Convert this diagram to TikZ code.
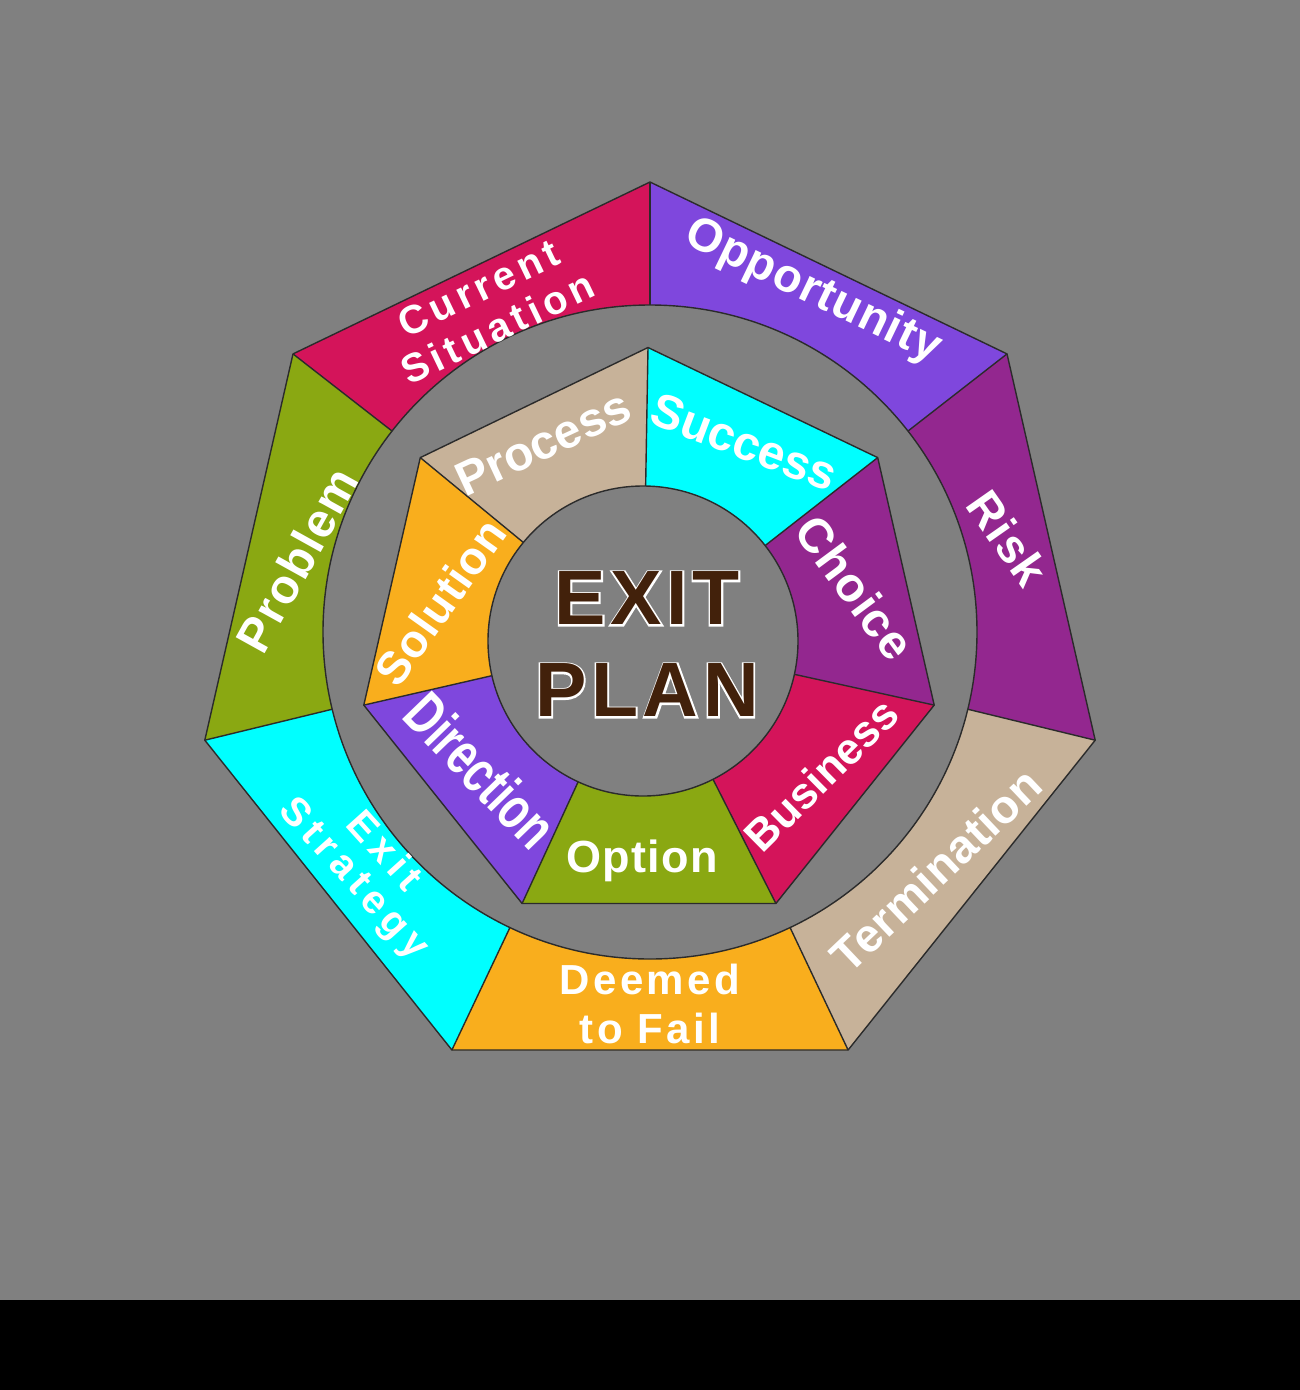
\documentclass[tikz,border=0pt]{standalone}
\usepackage{fontspec}
\setmainfont{Liberation Sans}
\definecolor{bgc}{HTML}{808080}
\definecolor{crim}{HTML}{D4145A}
\definecolor{oppc}{HTML}{7F47DD}
\definecolor{riskc}{HTML}{93278F}
\definecolor{tanc}{HTML}{C7B299}
\definecolor{orac}{HTML}{F9AE1D}
\definecolor{cyanc}{HTML}{00FFFF}
\definecolor{olivec}{HTML}{8AA812}
\definecolor{brownc}{HTML}{42210B}
\definecolor{edgec}{HTML}{2B2B2B}
\newcommand\lf[3]{\fontsize{#1}{#2}\selectfont\bfseries\addfontfeatures{LetterSpace=#3}}
\newcommand\outl[1]{\rlap{\special{pdf:literal direct 1 Tr 3.4 w 1 1 1 RG}#1\special{pdf:literal direct 0 Tr}}#1}
\tikzset{
  seg/.style={fill=#1, draw=none},
  edgeline/.style={draw=edgec, line width=1.4pt, line join=round},
  hole/.style={fill=bgc, draw=edgec, line width=1.4pt},
  lbl/.style={text=white, inner sep=0pt, align=center},
}
\begin{document}
\begin{tikzpicture}[x=1pt,y=-1pt]
\useasboundingbox (0,0) rectangle (1300,1390);
\fill[bgc] (0,0) rectangle (1300,1300);
\fill[black] (0,1300) rectangle (1300,1390);
% outer heptagon
\coordinate (OC) at (650,632);
\coordinate (o0) at (650,182);
\coordinate (o1) at (293,353.9);
\coordinate (o2) at (204.8,740.2);
\coordinate (o3) at (451.9,1050);
\coordinate (o4) at (848.1,1050);
\coordinate (o5) at (1095.2,740.2);
\coordinate (o6) at (1007,353.9);
\fill[seg=crim] (OC) -- (o0) -- (o1) -- cycle;
\fill[seg=olivec] (OC) -- (o1) -- (o2) -- cycle;
\fill[seg=cyanc] (OC) -- (o2) -- (o3) -- cycle;
\fill[seg=orac] (OC) -- (o3) -- (o4) -- cycle;
\fill[seg=tanc] (OC) -- (o4) -- (o5) -- cycle;
\fill[seg=riskc] (OC) -- (o5) -- (o6) -- cycle;
\fill[seg=oppc] (OC) -- (o6) -- (o0) -- cycle;
\draw[edgeline] (o0) -- (o1) -- (o2) -- (o3) -- (o4) -- (o5) -- (o6) -- cycle;
\foreach \v in {o0,o1,o2,o3,o4,o5,o6} \draw[edgeline] (\v) -- (OC);
\path[hole] (OC) circle[radius=327];
% inner heptagon
\coordinate (IC) at (643,641);
\coordinate (i0) at (648,347.5);
\coordinate (i1) at (420.3,457.6);
\coordinate (i2) at (363.8,705.1);
\coordinate (i3) at (522.1,903.5);
\coordinate (i4) at (775.9,903.5);
\coordinate (i5) at (934.2,705.1);
\coordinate (i6) at (877.7,457.6);
\fill[seg=tanc] (IC) -- (i0) -- (i1) -- cycle;
\fill[seg=orac] (IC) -- (i1) -- (i2) -- cycle;
\fill[seg=oppc] (IC) -- (i2) -- (i3) -- cycle;
\fill[seg=olivec] (IC) -- (i3) -- (i4) -- cycle;
\fill[seg=crim] (IC) -- (i4) -- (i5) -- cycle;
\fill[seg=riskc] (IC) -- (i5) -- (i6) -- cycle;
\fill[seg=cyanc] (IC) -- (i6) -- (i0) -- cycle;
\draw[edgeline] (i0) -- (i1) -- (i2) -- (i3) -- (i4) -- (i5) -- (i6) -- cycle;
\foreach \v in {i0,i1,i2,i3,i4,i5,i6} \draw[edgeline] (\v) -- (IC);
\path[hole] (IC) circle[radius=155];
% outer labels
\node[lbl, rotate=25.7, font=\lf{40}{44}{12}] (cs) at (488,308) {Current\\Situation};
\node[lbl, rotate=-25.7, font=\lf{47}{50}{2}] (opp) at (813,292) {Opportunity};
\node[lbl, rotate=-55, font=\lf{47}{50}{3}] (risk) at (1008,538) {Risk};
\node[lbl, rotate=43.5, font=\lf{47}{50}{1}] (term) at (936,870) {Termination};
\node[lbl, font=\lf{42}{49}{8}] (dtf) at (650,1004) {Deemed\\to Fail};
\node[lbl, rotate=-48, font=\lf{40}{40}{15}] (es) at (368,866) {Exit\\Strategy};
\node[lbl, rotate=61, font=\lf{48}{50}{3}] (prob) at (297,560) {Problem};
% inner labels
\node[lbl, rotate=25, font=\lf{48}{50}{0}] (proc) at (543,443) {Process};
\node[lbl, rotate=-20.8, font=\lf{48}{50}{0}] (succ) at (744,442) {Success};
\node[lbl, rotate=-53.5, font=\lf{48}{50}{2}] (cho) at (855,588) {Choice};
\node[lbl, rotate=44.7, font=\lf{44}{50}{0}] (bus) at (821,775) {Business};
\node[lbl, font=\lf{45}{50}{3}] (opt) at (642,861) {Option};
\node[lbl, rotate=-46, font={\lf{60}{60}{0}\addfontfeatures{FakeStretch=0.72}}] (dir) at (481,770) {Direction};
\node[lbl, rotate=54.6, font=\lf{46}{50}{2}] (sol) at (440,602) {Solution};
% centre
\node[inner sep=0pt, align=center, text=brownc, font=\lf{77}{92}{6}] (exit) at (647,644.5) {\outl{EXIT}\\\outl{PLAN}};
\end{tikzpicture}
\end{document}
